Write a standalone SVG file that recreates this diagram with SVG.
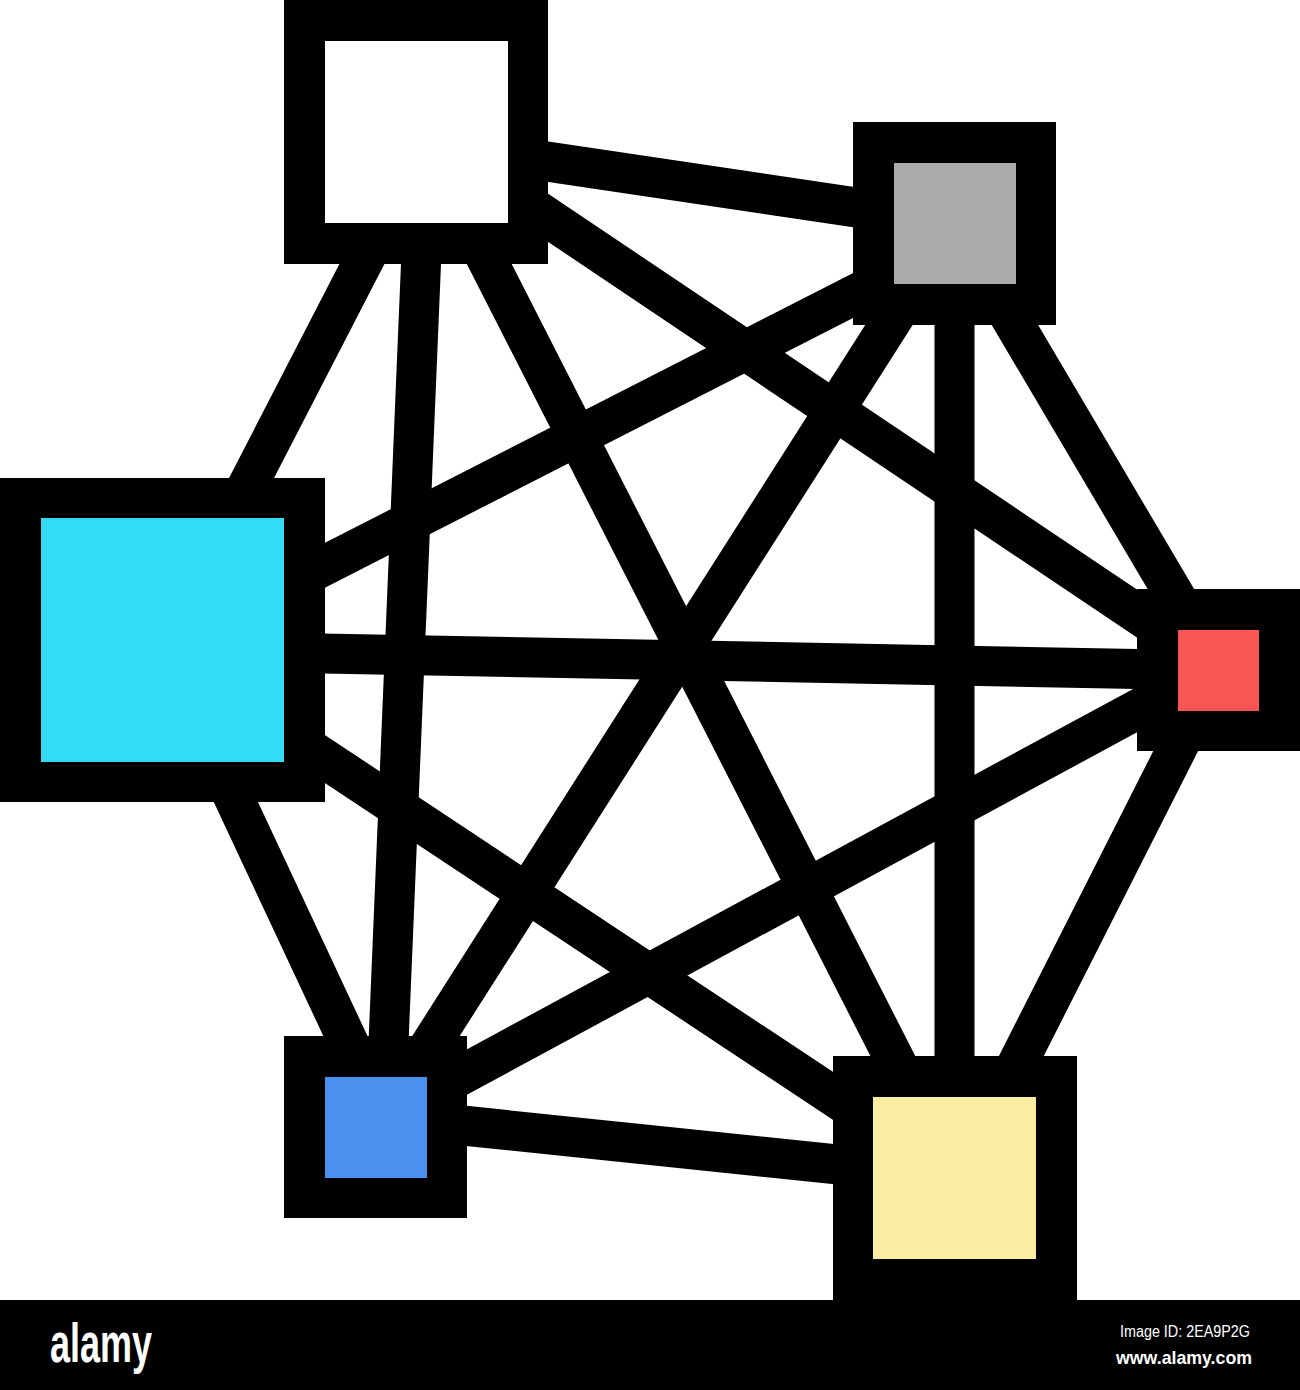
<svg xmlns="http://www.w3.org/2000/svg" width="1300" height="1390" viewBox="0 0 1300 1390">
<style>
.edge{stroke:#000;stroke-width:40;stroke-linecap:butt;fill:none}
.frame{fill:#000}
.foot{fill:#fff;font-family:"Liberation Sans",Arial,sans-serif}
</style>
<rect x="0" y="0" width="1300" height="1390" fill="#fff"/>
<g id="connectors">
<line class="edge" x1="416" y1="142" x2="954" y2="222"/>
<line class="edge" x1="416" y1="129" x2="1218" y2="668"/>
<line class="edge" x1="430" y1="132" x2="168" y2="640"/>
<line class="edge" x1="426.5" y1="132" x2="385" y2="1127"/>
<line class="edge" x1="422" y1="132" x2="955" y2="1178"/>
<line class="edge" x1="954" y1="244" x2="162" y2="648.5"/>
<line class="edge" x1="953.6" y1="223.5" x2="378" y2="1127"/>
<line class="edge" x1="954.5" y1="223" x2="954.5" y2="1178"/>
<line class="edge" x1="955" y1="223.5" x2="1218.7" y2="670"/>
<line class="edge" x1="162" y1="650.4" x2="1218" y2="670.5"/>
<line class="edge" x1="160" y1="640" x2="388" y2="1127"/>
<line class="edge" x1="162" y1="651" x2="954.5" y2="1176.5"/>
<line class="edge" x1="1218.5" y1="665.5" x2="375.5" y2="1121.5"/>
<line class="edge" x1="1216.7" y1="670" x2="959.6" y2="1178"/>
<line class="edge" x1="375.5" y1="1116.5" x2="954.5" y2="1176.6"/>
</g>
<g id="node-top">
<rect class="frame" x="284" y="0" width="264" height="264"/>
<rect x="325" y="41" width="183" height="182" fill="#fff"/>
</g>
<g id="node-gray">
<rect class="frame" x="853" y="122" width="203" height="203"/>
<rect x="894" y="163" width="122" height="121" fill="#aaaaaa"/>
</g>
<g id="node-cyan">
<rect class="frame" x="0" y="478" width="325" height="324"/>
<rect x="41" y="518" width="243" height="244" fill="#32dcf5"/>
</g>
<g id="node-red">
<rect class="frame" x="1137" y="589" width="163" height="162"/>
<rect x="1178" y="630" width="81" height="81" fill="#fa5555"/>
</g>
<g id="node-blue">
<rect class="frame" x="284" y="1036" width="183" height="182"/>
<rect x="325" y="1077" width="102" height="101" fill="#4a90ee"/>
</g>
<g id="node-yellow">
<rect class="frame" x="833" y="1056" width="244" height="250"/>
<rect x="873" y="1097" width="163" height="162" fill="#faeca0"/>
</g>
<g id="footer">
<rect x="0" y="1300" width="1300" height="90" fill="#000"/>
<text class="foot" x="50" y="1362" font-size="55" font-weight="bold" textLength="102" lengthAdjust="spacingAndGlyphs">alamy</text>
<text class="foot" x="1250" y="1337" font-size="16" text-anchor="end" textLength="130" lengthAdjust="spacingAndGlyphs">Image ID: 2EA9P2G</text>
<text class="foot" x="1252" y="1364" font-size="19" font-weight="bold" text-anchor="end" textLength="136" lengthAdjust="spacingAndGlyphs">www.alamy.com</text>
</g>
</svg>
